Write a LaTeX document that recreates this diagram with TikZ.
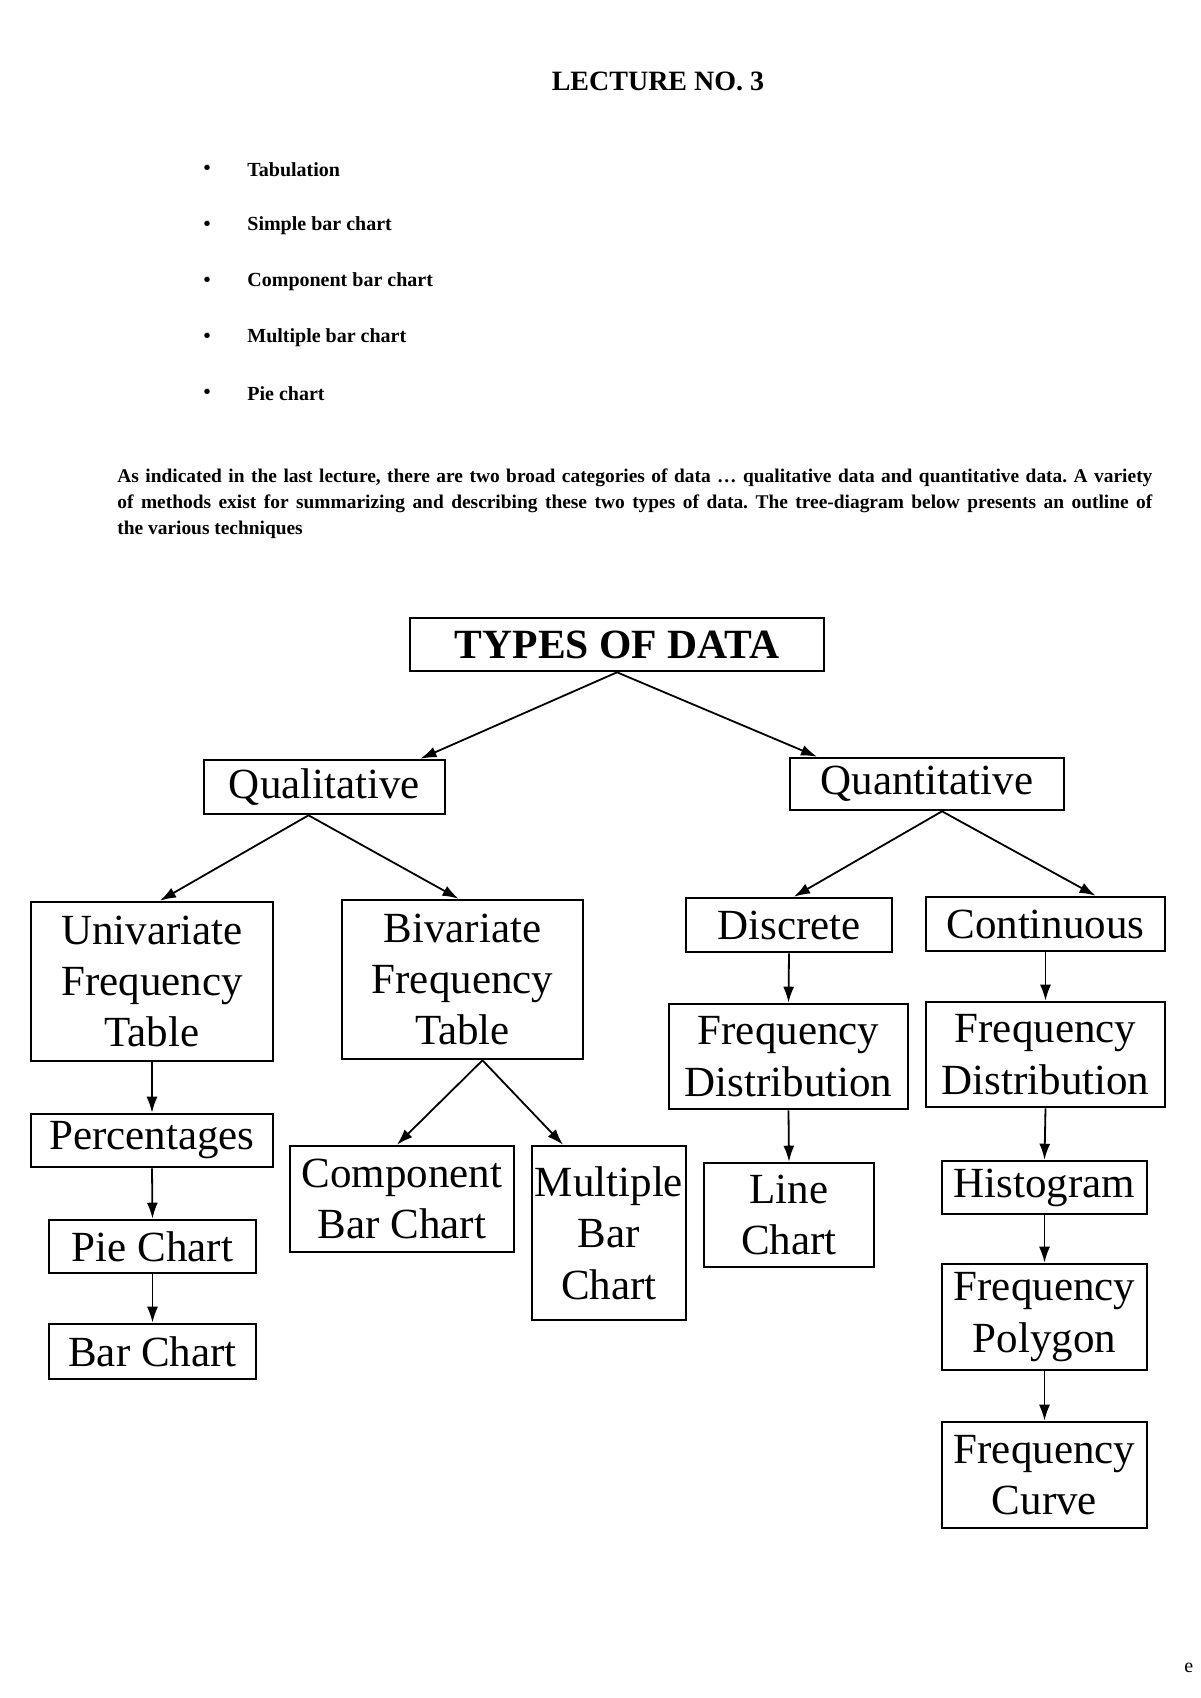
\documentclass[tikz,border=0pt]{standalone}
\usepackage{fontspec}
\setmainfont{Liberation Serif}
\usepackage{tikz}
\usetikzlibrary{arrows.meta}

\tikzset{
  box/.style={draw, line width=1.3pt, align=center, inner sep=0pt, font=\fontsize{21.5}{25.7}\selectfont},
  arr/.style={-{Latex[length=8pt, width=5.5pt]}, line width=0.9pt},
  item/.style={anchor=west, inner sep=0pt, font=\fontsize{10}{12}\bfseries}
}

\begin{document}
\frenchspacing
\begin{tikzpicture}[x=0.5pt, y=-0.5pt]
\useasboundingbox (0,0) rectangle (1200,1698);
% heading and list of topics
\node[font=\fontsize{14}{16}\bfseries] (head) at (658,81) {LECTURE NO. 3};
\foreach \txt [count=\i from 0] in {Tabulation, Simple bar chart, Component bar chart, Multiple bar chart, Pie chart}{%
  \node[inner sep=0pt, font=\fontsize{10}{12}\bfseries] (dot\i) at (207, {170+56*\i}) {\textbullet};
  \node[item] (item\i) at (247, {170+56*\i}) {\txt};}
\node[anchor=north west, inner sep=0pt, text width=517.5pt, align=justify, font=\fontsize{9.7}{13.2}\bfseries] (intro) at (117,468)
  {As indicated in the last lecture, there are two broad categories of data … qualitative data and quantitative data. A variety\linebreak
   of methods exist for summarizing and describing these two types of data. The tree-diagram below presents an outline of\linebreak
   the various techniques};
% tree of techniques
\node[box, font=\fontsize{20.8}{25}\bfseries, minimum width=207pt, minimum height=26.5pt] (types) at (617,644.5) {TYPES OF DATA};
\foreach \n/\x/\y/\w/\h/\txt in {%
  qual/324.5/787/120.5/27/Qualitative,
  quant/927/784/137/26/Quantitative,
  univ/152/981.5/121/79.5/{Univariate\\Frequency\\Table},
  biv/462.5/979.5/120.5/79.5/{Bivariate\\Frequency\\Table},
  disc/789/925/103/27/Discrete,
  cont/1045.5/924/119.5/27/Continuous,
  fdd/788.5/1056.5/119.5/52.5/{Frequency\\Distribution},
  fdc/1045.5/1054.5/119.5/52.5/{Frequency\\Distribution},
  perc/152/1140.5/121/26.5/Percentages,
  pie/152.5/1246.5/103.5/26.5/Pie Chart,
  bar/152.5/1351.5/103.5/27.5/Bar Chart,
  comp/402/1199/112/53/{Component\\Bar Chart},
  mult/609/1233/77/87/{Multiple\\Bar\\Chart},
  line/789/1215/85/52/{Line\\Chart},
  hist/1044.5/1187.5/102.5/26.5/Histogram,
  poly/1044.5/1317/102.5/53/{Frequency\\Polygon},
  curve/1044.5/1475/102.5/53/{Frequency\\Curve}}
  \node[box, minimum width=\w pt, minimum height=\h pt] (\n) at (\x,\y) {\txt};
\draw[arr] (types.south) -- ([xshift=48pt]qual.north);
\draw[arr] (types.south) -- ([xshift=-55pt]quant.north);
\draw[arr] ([xshift=-8pt]qual.south) -- ([xshift=4pt]univ.north);
\draw[arr] ([xshift=-8pt]qual.south) -- ([xshift=-2pt]biv.north);
\draw[arr] ([xshift=7.5pt]quant.south) -- ([xshift=2.5pt]disc.north);
\draw[arr] ([xshift=7.5pt]quant.south) -- ([xshift=25pt]cont.north);
\draw[arr] ([xshift=10pt]biv.south) -- ([xshift=-2.5pt]comp.north);
\draw[arr] ([xshift=10pt]biv.south) -- ([xshift=-23pt]mult.north);
\foreach \a/\b in {univ/perc, perc/pie, pie/bar, disc/fdd, fdd/line, cont/fdc, fdc/hist, hist/poly, poly/curve}
  \draw[arr] (\a.south) -- (\b.north);
\node[anchor=west, inner sep=0pt, font=\fontsize{10}{12}\selectfont] (edge) at (1184,1668) {e};
\end{tikzpicture}
\end{document}
